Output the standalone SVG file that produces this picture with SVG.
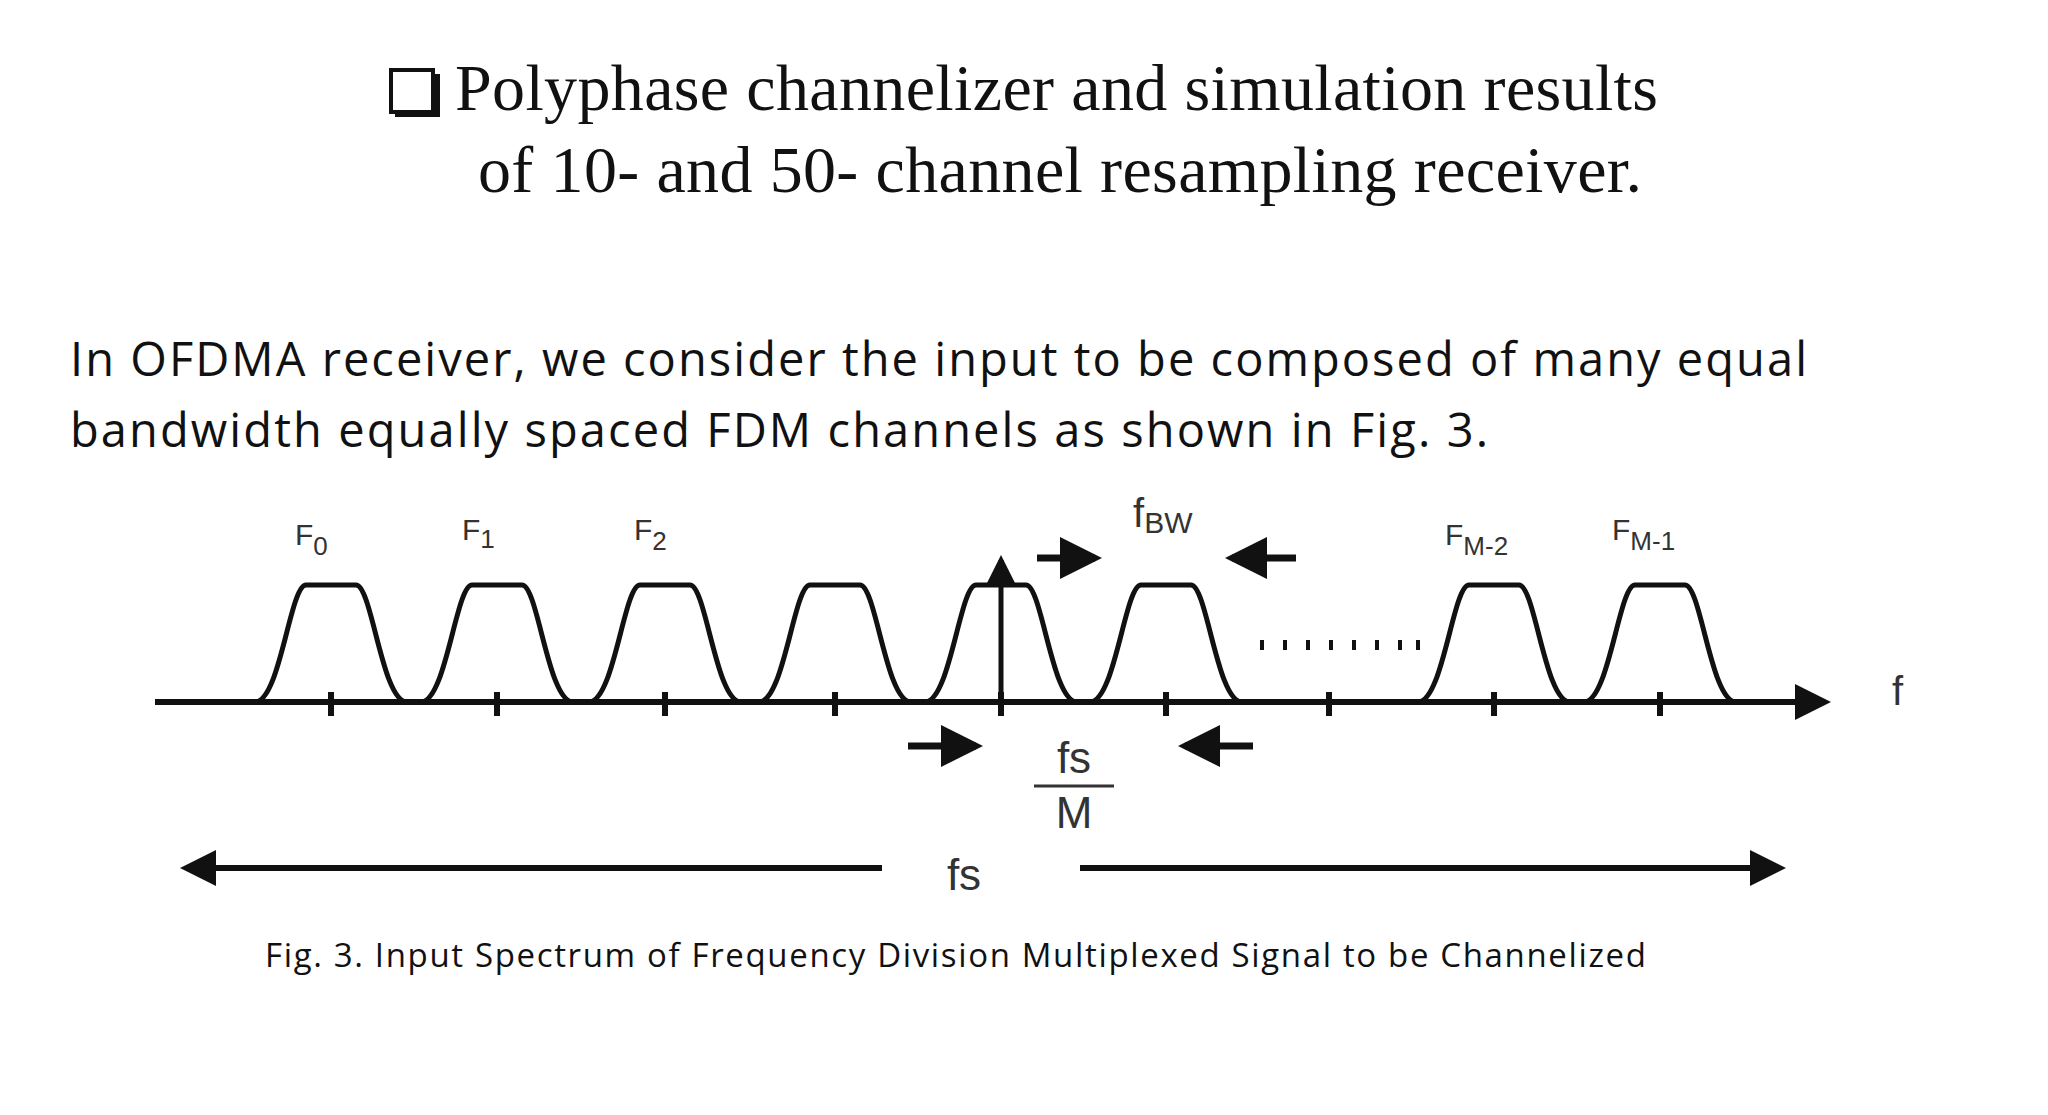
<svg xmlns="http://www.w3.org/2000/svg" width="2048" height="1115" viewBox="0 0 2048 1115">
<style>
.t{font-family:"Liberation Serif",serif;font-size:66px;fill:#111}
.b{font-family:"Open Sans","Noto Sans",sans-serif;font-size:47px;fill:#111}
.l{font-family:"Liberation Sans",Arial,sans-serif;fill:#333}
.p{fill:none;stroke:#111;stroke-width:5}
.k{stroke:#111;stroke-width:7}
</style>
<defs>
<marker id="ah" markerWidth="6" markerHeight="6" refX="5" refY="3" orient="auto" markerUnits="strokeWidth"><path d="M0,0 L6,3 L0,6 Z" fill="#111"/></marker>
</defs>
<rect width="2048" height="1115" fill="#fff"/>
<g id="title">
<rect x="391" y="70" width="42" height="42" fill="none" stroke="#111" stroke-width="4"/>
<path d="M395,114 H437 V74" fill="none" stroke="#111" stroke-width="6"/>
<text class="t" x="455" y="110" textLength="1203">Polyphase channelizer and simulation results</text>
<text class="t" x="478" y="192" textLength="1164">of 10- and 50- channel resampling receiver.</text>
</g>
<g id="body">
<text class="b" x="70" y="376" textLength="1737">In OFDMA receiver, we consider the input to be composed of many equal</text>
<text class="b" x="70" y="447" textLength="1418">bandwidth equally spaced FDM channels as shown in Fig. 3.</text>
</g>
<g id="pulses">
<path class="p" d="M255,702 C280,702 290,585 306,585 L356,585 C372,585 382,702 407,702"/>
<path class="p" d="M421,702 C446,702 456,585 472,585 L522,585 C538,585 548,702 573,702"/>
<path class="p" d="M589,702 C614,702 624,585 640,585 L690,585 C706,585 716,702 741,702"/>
<path class="p" d="M759,702 C784,702 794,585 810,585 L860,585 C876,585 886,702 911,702"/>
<path class="p" d="M925,702 C950,702 960,585 976,585 L1026,585 C1042,585 1052,702 1077,702"/>
<path class="p" d="M1090,702 C1115,702 1125,585 1141,585 L1191,585 C1207,585 1217,702 1242,702"/>
<path class="p" d="M1418,702 C1443,702 1453,585 1469,585 L1519,585 C1535,585 1545,702 1570,702"/>
<path class="p" d="M1584,702 C1609,702 1619,585 1635,585 L1685,585 C1701,585 1711,702 1736,702"/>
</g>
<g id="axis">
<line x1="155" y1="702" x2="1825" y2="702" stroke="#111" stroke-width="6" marker-end="url(#ah)"/>
<g stroke="#111" stroke-width="6">
<line x1="331" y1="692" x2="331" y2="716"/><line x1="497" y1="692" x2="497" y2="716"/>
<line x1="665" y1="692" x2="665" y2="716"/><line x1="835" y1="692" x2="835" y2="716"/>
<line x1="1001" y1="692" x2="1001" y2="716"/><line x1="1166" y1="692" x2="1166" y2="716"/>
<line x1="1329" y1="692" x2="1329" y2="716"/><line x1="1494" y1="692" x2="1494" y2="716"/>
<line x1="1660" y1="692" x2="1660" y2="716"/>
</g>
<line x1="1001" y1="702" x2="1001" y2="560" stroke="#111" stroke-width="5" marker-end="url(#ah)"/>
<text class="l" x="1892" y="705" font-size="40">f</text>
</g>
<g id="dots" stroke="#111" stroke-width="4">
<path d="M1262,640 v10 M1285,640 v10 M1308,640 v10 M1331,640 v10 M1354,640 v10 M1377,640 v10 M1400,640 v10 M1418,640 v10"/>
</g>
<g id="connectors">
<line class="k" x1="1037" y1="558" x2="1095" y2="558" marker-end="url(#ah)"/>
<line class="k" x1="1296" y1="558" x2="1232" y2="558" marker-end="url(#ah)"/>
<line class="k" x1="908" y1="746" x2="976" y2="746" marker-end="url(#ah)"/>
<line class="k" x1="1253" y1="746" x2="1185" y2="746" marker-end="url(#ah)"/>
<line x1="882" y1="868" x2="186" y2="868" stroke="#111" stroke-width="6" marker-end="url(#ah)"/>
<line x1="1080" y1="868" x2="1780" y2="868" stroke="#111" stroke-width="6" marker-end="url(#ah)"/>
</g>
<g id="labels">
<text class="l" x="295" y="545" font-size="30">F<tspan font-size="26" dy="10">0</tspan></text>
<text class="l" x="462" y="540" font-size="30">F<tspan font-size="26" dy="8">1</tspan></text>
<text class="l" x="634" y="540" font-size="30">F<tspan font-size="26" dy="10">2</tspan></text>
<text class="l" x="1445" y="545" font-size="30">F<tspan font-size="26" dy="10">M-2</tspan></text>
<text class="l" x="1612" y="540" font-size="30">F<tspan font-size="26" dy="10">M-1</tspan></text>
<text class="l" x="1133" y="527" font-size="40">f<tspan font-size="30" dy="6">BW</tspan></text>
<text class="l" x="1074" y="773" font-size="44" text-anchor="middle">fs</text>
<line x1="1034" y1="786" x2="1114" y2="786" stroke="#333" stroke-width="3"/>
<text class="l" x="1074" y="828" font-size="44" text-anchor="middle">M</text>
<text class="l" x="964" y="890" font-size="44" text-anchor="middle">fs</text>
</g>
<g id="caption">
<text x="265" y="967" font-family="Open Sans,Noto Sans,sans-serif" font-size="33" fill="#111" textLength="1381">Fig. 3. Input Spectrum of Frequency Division Multiplexed Signal to be Channelized</text>
</g>
</svg>
